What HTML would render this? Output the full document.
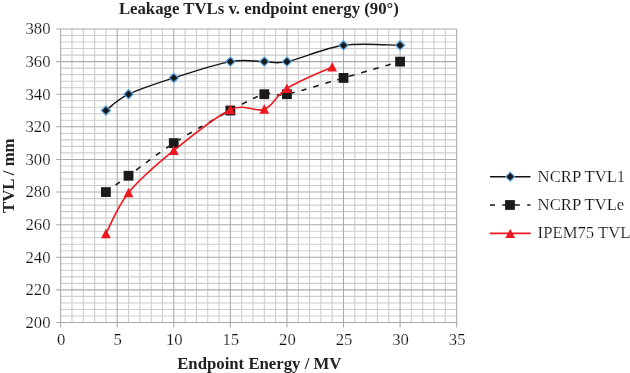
<!DOCTYPE html><html><head><meta charset="utf-8"><style>html,body{margin:0;padding:0;background:#fff;width:630px;height:373px;overflow:hidden}svg{display:block;will-change:transform}</style></head><body><svg width="630" height="373" viewBox="0 0 630 373">
<rect width="630" height="373" fill="#fff"/>
<path d="M71.96 29.00V322.50M83.28 29.00V322.50M94.59 29.00V322.50M105.91 29.00V322.50M128.54 29.00V322.50M139.85 29.00V322.50M151.16 29.00V322.50M162.48 29.00V322.50M185.11 29.00V322.50M196.42 29.00V322.50M207.74 29.00V322.50M219.05 29.00V322.50M241.68 29.00V322.50M252.99 29.00V322.50M264.31 29.00V322.50M275.62 29.00V322.50M298.25 29.00V322.50M309.56 29.00V322.50M320.88 29.00V322.50M332.19 29.00V322.50M354.82 29.00V322.50M366.14 29.00V322.50M377.45 29.00V322.50M388.76 29.00V322.50M411.39 29.00V322.50M422.71 29.00V322.50M434.02 29.00V322.50M445.34 29.00V322.50M60.65 35.52H456.65M60.65 42.04H456.65M60.65 48.57H456.65M60.65 55.09H456.65M60.65 68.13H456.65M60.65 74.66H456.65M60.65 81.18H456.65M60.65 87.70H456.65M60.65 100.74H456.65M60.65 107.27H456.65M60.65 113.79H456.65M60.65 120.31H456.65M60.65 133.36H456.65M60.65 139.88H456.65M60.65 146.40H456.65M60.65 152.92H456.65M60.65 165.97H456.65M60.65 172.49H456.65M60.65 179.01H456.65M60.65 185.53H456.65M60.65 198.58H456.65M60.65 205.10H456.65M60.65 211.62H456.65M60.65 218.14H456.65M60.65 231.19H456.65M60.65 237.71H456.65M60.65 244.23H456.65M60.65 250.76H456.65M60.65 263.80H456.65M60.65 270.32H456.65M60.65 276.84H456.65M60.65 283.37H456.65M60.65 296.41H456.65M60.65 302.93H456.65M60.65 309.46H456.65M60.65 315.98H456.65" stroke="#cdcdcd" stroke-width="1.1" fill="none"/>
<path d="M60.65 29.00V327.50M117.22 29.00V327.50M173.79 29.00V327.50M230.36 29.00V327.50M286.94 29.00V327.50M343.51 29.00V327.50M400.08 29.00V327.50M456.65 29.00V327.50M56.15 29.00H456.65M56.15 61.61H456.65M56.15 94.22H456.65M56.15 126.83H456.65M56.15 159.44H456.65M56.15 192.06H456.65M56.15 224.67H456.65M56.15 257.28H456.65M56.15 289.89H456.65M56.15 322.50H456.65" stroke="#a8a9ad" stroke-width="1.05" fill="none"/>
<path d="M115.61 185.06L116.09 184.72L116.58 184.36L117.08 184.00L117.59 183.64L118.11 183.26L118.63 182.89L119.17 182.50L119.71 182.11L119.85 182.01M136.06 170.20L136.87 169.59L137.68 168.98L138.51 168.35L139.35 167.72L140.20 167.08L140.52 166.84M145.93 162.78L146.85 162.10L147.77 161.41L148.69 160.72L149.63 160.03L150.10 159.68M155.97 155.38L156.95 154.67L157.93 153.97L158.92 153.26L159.91 152.55L160.28 152.29M166.17 148.19L167.19 147.50L168.20 146.81L169.21 146.13L169.21 146.13M178.82 139.97L179.92 139.29L180.90 138.69M187.23 134.87L188.41 134.16L189.60 133.46L190.80 132.75L191.85 132.14M198.22 128.43L199.44 127.73L200.65 127.03L201.87 126.33L202.48 125.99M209.12 122.23L210.31 121.56L211.49 120.90L212.67 120.24L213.54 119.76M220.18 116.08L221.27 115.48L222.34 114.90L223.39 114.32L224.43 113.75L224.56 113.68M241.83 104.32L242.57 103.92L243.29 103.54L244.01 103.15L244.72 102.78L245.42 102.41L246.11 102.05L246.80 101.69L246.88 101.65M253.02 98.61L253.63 98.32L254.24 98.04L254.84 97.77L255.44 97.50L256.04 97.24L256.63 96.99L257.22 96.74L257.73 96.53M268.92 93.44L269.31 93.44L269.69 93.45L270.06 93.46L270.19 93.47M276.91 94.77L277.31 94.83L277.74 94.88L278.17 94.92L278.63 94.96L279.10 94.98L279.58 95.00L280.09 95.01L280.62 95.00L281.17 94.98L281.45 94.97M291.91 93.08L292.86 92.84L293.83 92.60L294.69 92.37M301.41 90.53L302.53 90.21L303.66 89.89L304.80 89.55L305.95 89.22L306.39 89.09M313.25 87.04L314.47 86.67L315.70 86.30L316.93 85.93L318.17 85.55L318.78 85.36M325.31 83.37L326.55 82.99L327.79 82.61L329.03 82.23L330.27 81.86L330.88 81.67M337.10 79.80L338.29 79.44L338.59 79.36M348.50 76.48L349.73 76.12L350.97 75.77L352.22 75.41L353.48 75.04L354.44 74.77M361.11 72.84L362.43 72.46L363.74 72.08L365.06 71.70L366.38 71.32L366.88 71.18M373.25 69.34L374.53 68.97L375.81 68.61L377.07 68.24L378.32 67.88L378.78 67.75M385.32 65.87L386.44 65.54L387.54 65.23L388.61 64.92L389.66 64.62L390.67 64.32L390.80 64.29" stroke="#1a1a1a" stroke-width="1.55" fill="none"/>
<rect x="101.01" y="187.16" width="9.8" height="9.8" fill="#1a1a1a"/>
<rect x="123.64" y="170.85" width="9.8" height="9.8" fill="#1a1a1a"/>
<rect x="168.89" y="138.24" width="9.8" height="9.8" fill="#1a1a1a"/>
<rect x="225.46" y="105.63" width="9.8" height="9.8" fill="#1a1a1a"/>
<rect x="259.41" y="89.32" width="9.8" height="9.8" fill="#1a1a1a"/>
<rect x="282.04" y="89.32" width="9.8" height="9.8" fill="#1a1a1a"/>
<rect x="338.61" y="73.02" width="9.8" height="9.8" fill="#1a1a1a"/>
<rect x="395.18" y="56.71" width="9.8" height="9.8" fill="#1a1a1a"/>
<path d="M105.91 110.53C109.68 107.81 117.22 99.66 128.54 94.22C139.85 88.79 156.82 83.35 173.79 77.92C190.76 72.48 215.28 64.33 230.36 61.61C245.45 58.89 254.88 61.61 264.31 61.61C273.74 61.61 273.74 64.33 286.94 61.61C300.14 58.89 324.65 48.02 343.51 45.31C362.36 42.59 390.65 45.31 400.08 45.31" stroke="#151515" stroke-width="1.4" fill="none"/>
<path d="M105.91 105.93L110.51 110.53L105.91 115.13L101.31 110.53Z" fill="#1a1a1a" stroke="#5aa6e6" stroke-width="1.25"/>
<path d="M128.54 89.62L133.14 94.22L128.54 98.82L123.94 94.22Z" fill="#1a1a1a" stroke="#5aa6e6" stroke-width="1.25"/>
<path d="M173.79 73.32L178.39 77.92L173.79 82.52L169.19 77.92Z" fill="#1a1a1a" stroke="#5aa6e6" stroke-width="1.25"/>
<path d="M230.36 57.01L234.96 61.61L230.36 66.21L225.76 61.61Z" fill="#1a1a1a" stroke="#5aa6e6" stroke-width="1.25"/>
<path d="M264.31 57.01L268.91 61.61L264.31 66.21L259.71 61.61Z" fill="#1a1a1a" stroke="#5aa6e6" stroke-width="1.25"/>
<path d="M286.94 57.01L291.54 61.61L286.94 66.21L282.34 61.61Z" fill="#1a1a1a" stroke="#5aa6e6" stroke-width="1.25"/>
<path d="M343.51 40.71L348.11 45.31L343.51 49.91L338.91 45.31Z" fill="#1a1a1a" stroke="#5aa6e6" stroke-width="1.25"/>
<path d="M400.08 40.71L404.68 45.31L400.08 49.91L395.48 45.31Z" fill="#1a1a1a" stroke="#5aa6e6" stroke-width="1.25"/>
<path d="M105.91 233.63C109.68 226.81 117.22 206.57 128.54 192.71C139.85 178.85 156.82 164.31 173.79 150.48C190.76 136.64 215.28 116.59 230.36 109.71C245.45 102.84 254.88 112.78 264.31 109.22C273.74 105.66 275.62 95.39 286.94 88.35C298.25 81.31 324.65 70.55 332.19 66.99" stroke="#ee1820" stroke-width="1.65" fill="none"/>
<path d="M105.91 228.73L110.81 238.23L101.01 238.23Z" fill="#ee1820"/>
<path d="M128.54 187.81L133.44 197.31L123.64 197.31Z" fill="#ee1820"/>
<path d="M173.79 145.58L178.69 155.08L168.89 155.08Z" fill="#ee1820"/>
<path d="M230.36 104.81L235.26 114.31L225.46 114.31Z" fill="#ee1820"/>
<path d="M264.31 104.32L269.21 113.82L259.41 113.82Z" fill="#ee1820"/>
<path d="M286.94 83.45L291.84 92.95L282.04 92.95Z" fill="#ee1820"/>
<path d="M332.19 62.09L337.09 71.59L327.29 71.59Z" fill="#ee1820"/>
<text x="50.5" y="327.90" text-anchor="end" style="font-family:'Liberation Serif',serif;font-size:16.7px" fill="#111" stroke="#fff" stroke-width="0.18">200</text>
<text x="50.5" y="295.29" text-anchor="end" style="font-family:'Liberation Serif',serif;font-size:16.7px" fill="#111" stroke="#fff" stroke-width="0.18">220</text>
<text x="50.5" y="262.68" text-anchor="end" style="font-family:'Liberation Serif',serif;font-size:16.7px" fill="#111" stroke="#fff" stroke-width="0.18">240</text>
<text x="50.5" y="230.07" text-anchor="end" style="font-family:'Liberation Serif',serif;font-size:16.7px" fill="#111" stroke="#fff" stroke-width="0.18">260</text>
<text x="50.5" y="197.46" text-anchor="end" style="font-family:'Liberation Serif',serif;font-size:16.7px" fill="#111" stroke="#fff" stroke-width="0.18">280</text>
<text x="50.5" y="164.84" text-anchor="end" style="font-family:'Liberation Serif',serif;font-size:16.7px" fill="#111" stroke="#fff" stroke-width="0.18">300</text>
<text x="50.5" y="132.23" text-anchor="end" style="font-family:'Liberation Serif',serif;font-size:16.7px" fill="#111" stroke="#fff" stroke-width="0.18">320</text>
<text x="50.5" y="99.62" text-anchor="end" style="font-family:'Liberation Serif',serif;font-size:16.7px" fill="#111" stroke="#fff" stroke-width="0.18">340</text>
<text x="50.5" y="67.01" text-anchor="end" style="font-family:'Liberation Serif',serif;font-size:16.7px" fill="#111" stroke="#fff" stroke-width="0.18">360</text>
<text x="50.5" y="34.40" text-anchor="end" style="font-family:'Liberation Serif',serif;font-size:16.7px" fill="#111" stroke="#fff" stroke-width="0.18">380</text>
<text x="61.15" y="344.8" text-anchor="middle" style="font-family:'Liberation Serif',serif;font-size:16.7px" fill="#111" stroke="#fff" stroke-width="0.18">0</text>
<text x="117.72" y="344.8" text-anchor="middle" style="font-family:'Liberation Serif',serif;font-size:16.7px" fill="#111" stroke="#fff" stroke-width="0.18">5</text>
<text x="174.29" y="344.8" text-anchor="middle" style="font-family:'Liberation Serif',serif;font-size:16.7px" fill="#111" stroke="#fff" stroke-width="0.18">10</text>
<text x="230.86" y="344.8" text-anchor="middle" style="font-family:'Liberation Serif',serif;font-size:16.7px" fill="#111" stroke="#fff" stroke-width="0.18">15</text>
<text x="287.44" y="344.8" text-anchor="middle" style="font-family:'Liberation Serif',serif;font-size:16.7px" fill="#111" stroke="#fff" stroke-width="0.18">20</text>
<text x="344.01" y="344.8" text-anchor="middle" style="font-family:'Liberation Serif',serif;font-size:16.7px" fill="#111" stroke="#fff" stroke-width="0.18">25</text>
<text x="400.58" y="344.8" text-anchor="middle" style="font-family:'Liberation Serif',serif;font-size:16.7px" fill="#111" stroke="#fff" stroke-width="0.18">30</text>
<text x="457.15" y="344.8" text-anchor="middle" style="font-family:'Liberation Serif',serif;font-size:16.7px" fill="#111" stroke="#fff" stroke-width="0.18">35</text>
<text x="258.9" y="13.5" text-anchor="middle" style="font-family:'Liberation Serif',serif;font-size:16.75px;font-weight:bold" fill="#222">Leakage TVLs v. endpoint energy (90°)</text>
<text x="259.3" y="369.1" text-anchor="middle" style="font-family:'Liberation Serif',serif;font-size:16.75px;font-weight:bold" fill="#222">Endpoint Energy / MV</text>
<text transform="translate(13.9 175.7) rotate(-90)" x="0" y="0" text-anchor="middle" style="font-family:'Liberation Serif',serif;font-size:16.75px;font-weight:bold" fill="#222">TVL / mm</text>
<path d="M490.5 176.7H530" stroke="#111" stroke-width="1.4" stroke-linecap="round"/>
<path d="M510.20 172.20L514.70 176.70L510.20 181.20L505.70 176.70Z" fill="#1a1a1a" stroke="#5aa6e6" stroke-width="1.1"/>
<path d="M490 205.0H495M502.4 205.0H519.8M527.2 205.0H530.5" stroke="#1a1a1a" stroke-width="1.6"/>
<rect x="505.1" y="200.1" width="9.8" height="9.8" fill="#1a1a1a"/>
<path d="M490.5 233.4H530" stroke="#ee1820" stroke-width="1.7" stroke-linecap="round"/>
<path d="M510.20 228.90L515.10 237.90L505.30 237.90Z" fill="#ee1820"/>
<text x="537.6" y="182.2" style="font-family:'Liberation Serif',serif;font-size:16.7px" fill="#111" stroke="#fff" stroke-width="0.18">NCRP TVL1</text>
<text x="537.6" y="210.0" style="font-family:'Liberation Serif',serif;font-size:16.7px" fill="#111" stroke="#fff" stroke-width="0.18">NCRP TVLe</text>
<text x="537.6" y="237.6" style="font-family:'Liberation Serif',serif;font-size:16.7px" fill="#111" stroke="#fff" stroke-width="0.18">IPEM75 TVL</text>
</svg></body></html>
